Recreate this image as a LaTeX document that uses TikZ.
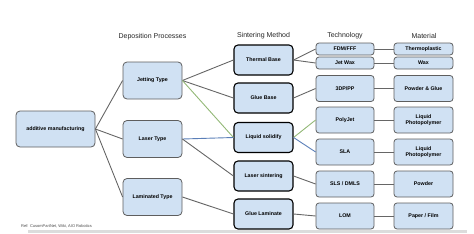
\documentclass[tikz,border=0pt]{standalone}
\usepackage{fontspec}
\setmainfont{Liberation Sans}
\usetikzlibrary{positioning}
\definecolor{Line}{HTML}{666666}
\definecolor{Edge}{HTML}{5E5E5E}
\definecolor{Box}{HTML}{D0E1F3}
\definecolor{Green}{HTML}{93B877}
\definecolor{Blue}{HTML}{5B7FB8}
\definecolor{Shade}{HTML}{DCDCDC}

\begin{document}
\begin{tikzpicture}[x=1pt,y=-1pt,
 b/.style={draw=Edge,line width=0.8pt,rounded corners=4pt,fill=Box,inner sep=0pt,minimum width=59pt,minimum height=37pt,align=center,font=\fontsize{5.3}{6}\selectfont\bfseries},
 s/.style={b,draw=black,line width=1.1pt,minimum height=30pt},
 t/.style={b,rounded corners=3pt,minimum width=58pt,minimum height=26pt},
 w/.style={t,minimum height=12pt},
 h/.style={font=\fontsize{7}{8}\selectfont,text=black!85},
 a/.style={draw=Line,line width=0.9pt}
]
\useasboundingbox (0,0) rectangle (474,233);
% column titles
\node[h] (hdep) at (152.5,37) {Deposition Processes};
\node[h] (hsin) at (263.5,36) {Sintering Method};
\node[h] (htec) at (345,36) {Technology};
\node[h] (hmat) at (424,36) {Material};
% root
\node[b,minimum width=79pt,minimum height=36pt] (am) at (55.5,129) {additive manufacturing};
% deposition
\node[b] (jet) at (152.5,80.5) {Jetting Type};
\node[b] (las) at (152.5,139) {Laser Type};
\node[b] (lam) at (152.5,197) {Laminated Type};
% sintering
\node[s] (therm) at (263.5,60) {Thermal Base};
\node[s] (glue) at (263.5,98) {Glue Base};
\node[s] (liq) at (263.5,137.5) {Liquid solidify};
\node[s] (lsin) at (263.5,176) {Laser sintering};
\node[s] (glam) at (263.5,214) {Glue Laminate};
% technology
\node[w] (fdm) at (345,49) {FDM/FFF};
\node[w] (jwax) at (345,63) {Jet Wax};
\node[t] (tdp) at (345,88.5) {3DP/PP};
\node[t] (poly) at (345,120) {PolyJet};
\node[t] (sla) at (345,152) {SLA};
\node[t] (sls) at (345,184) {SLS / DMLS};
\node[t] (lom) at (345,216) {LOM};
% material
\node[w,minimum width=59pt] (mthermo) at (423.5,49) {Thermoplastic};
\node[w,minimum width=59pt] (mwax) at (423.5,63) {Wax};
\node[t,minimum width=59pt] (mpow) at (423.5,88.5) {Powder \& Glue};
\node[t,minimum width=59pt] (mliqa) at (423.5,120) {Liquid\\Photopolymer};
\node[t,minimum width=59pt] (mliqb) at (423.5,152) {Liquid\\Photopolymer};
\node[t,minimum width=59pt] (mpowd) at (423.5,184) {Powder};
\node[t,minimum width=59pt] (mpap) at (423.5,216) {Paper / Film};
% links
\draw[a] (am.east)--(jet.west);\draw[a] (am.east)--(las.west);\draw[a] (am.east)--(lam.west);
\draw[a] (jet.east)--(therm.west);\draw[a] (jet.east)--(glue.west);
\draw[a,draw=Green] (jet.east)--(liq.west);
\draw[a,draw=Blue] (las.east)--(liq.west);
\draw[a] (las.east)--(lsin.west);
\draw[a] (lam.east)--(glam.west);
\draw[a] (therm.east)--(fdm.west);\draw[a] (therm.east)--(jwax.west);
\draw[a] (glue.east)--(tdp.west);
\draw[a,draw=Green] (liq.east)--(poly.west);
\draw[a,draw=Blue] (liq.east)--(sla.west);
\draw[a] (lsin.east)--(sls.west);
\draw[a] (glam.east)--(lom.west);
\foreach \x/\y in {fdm/mthermo,jwax/mwax,tdp/mpow,poly/mliqa,sla/mliqb,sls/mpowd,lom/mpap}
  \draw[a] (\x.east)--(\y.west);
% footer
\node[anchor=west,inner sep=0pt,font=\fontsize{4}{5}\selectfont,text=black!70] (ref) at (21,226) {Ref: CusomPartNet, Wiki, AIO Robotics};
\fill[Shade] (28,230) rectangle (467,233);
\end{tikzpicture}
\end{document}
